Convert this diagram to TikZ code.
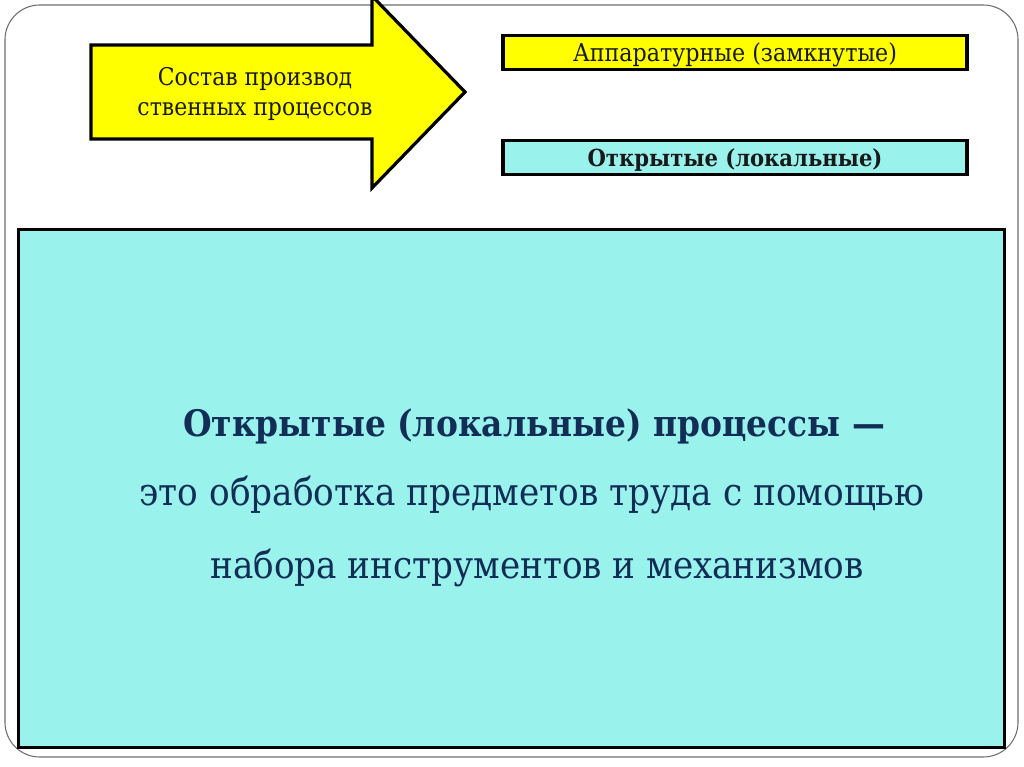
\documentclass[tikz,border=0pt]{standalone}
\usepackage{fontspec}
\setmainfont{DejaVu Serif Condensed}
\definecolor{cyanfill}{RGB}{154,242,236}
\definecolor{yel}{RGB}{255,255,0}
\definecolor{navy}{RGB}{18,46,86}
\definecolor{framegray}{RGB}{110,110,110}
\tikzset{
  boxstyle/.style={draw=black, line width=2.4pt, minimum width=348pt, minimum height=26pt, inner sep=0pt, text height=17.2pt, text depth=4.4pt},
  smalltext/.style={text=black!90},
  bigtext/.style={text=navy, anchor=base},
}
\begin{document}
\begin{tikzpicture}[x=0.75pt,y=-0.75pt]
\useasboundingbox (0,0) rectangle (1024,767);
\fill[white] (0,0) rectangle (1024,767);
% outer frame
\draw[framegray, line width=0.8pt, rounded corners=26pt] (5,5) rectangle (1018,757);
% main box
\node[draw=black, line width=2.4pt, fill=cyanfill, minimum width=740pt, minimum height=389pt, inner sep=0pt] (main) at (511.5,488.5) {};
\node[bigtext, font=\fontsize{27.4}{32}\selectfont\bfseries] (t1) at (534,436) {Открытые (локальные) процессы —};
\node[bigtext, font=\fontsize{28.6}{32}\selectfont] (t2) at (532,505) {это обработка предметов труда с помощью};
\node[bigtext, font=\fontsize{28.5}{32}\selectfont] (t3) at (537,578) {набора инструментов и механизмов};
% arrow
\draw[line width=2.4pt, fill=yel, line join=miter] (91,45) -- (372,45) -- (372,-4) -- (465,92) -- (372,188) -- (372,139) -- (91,139) -- cycle;
\node[smalltext, align=center, font=\fontsize{18.3}{22.5}\selectfont] (arrowtext) at (255,94) {Состав производ\\ственных процессов};
% right boxes
\node[boxstyle, fill=yel, smalltext, font=\fontsize{18.5}{20}\selectfont] (closed) at (735,52.5) {Аппаратурные (замкнутые)};
\node[boxstyle, fill=cyanfill, smalltext, font=\fontsize{17.6}{20}\selectfont\bfseries] (open) at (735,157.5) {Открытые (локальные)};
\end{tikzpicture}
\end{document}
